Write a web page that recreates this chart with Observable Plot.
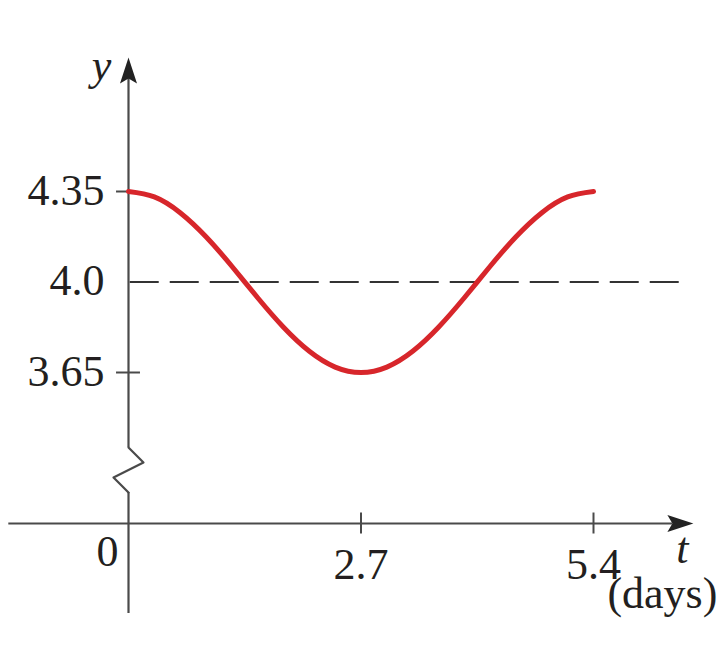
<!DOCTYPE html>
<html>
<head>
<meta charset="utf-8">
<script src="https://cdn.jsdelivr.net/npm/d3@7"></script>
<script src="https://cdn.jsdelivr.net/npm/@observablehq/plot@0.6"></script>
<style>
  html, body { margin: 0; padding: 0; background: #fff; }
  #chart { width: 726px; height: 652px; }
</style>
</head>
<body>
<div id="chart"></div>
<script>
// Data
const tValues = [0, 0.3, 0.6, 0.9, 1.2, 1.5, 1.8, 2.1, 2.4, 2.7, 3.0, 3.3, 3.6, 3.9, 4.2, 4.5, 4.8, 5.1, 5.4];
const yValues = [4.35, 4.329, 4.268, 4.175, 4.061, 3.939, 3.825, 3.732, 3.671, 3.65, 3.671, 3.732, 3.825, 3.939, 4.061, 4.175, 4.268, 4.329, 4.35];
const midline = 4.0;
const yTicks = [4.35, 4.0, 3.65];
const yTickLabels = ["4.35", "4.0", "3.65"];
const xTicks = [2.7, 5.4];
const xTickLabels = ["2.7", "5.4"];
const originLabel = "0";
const xAxisLabel = "t";
const xUnitLabel = "(days)";
const yAxisLabel = "y";

const data = tValues.map((t, i) => ({t, y: yValues[i]}));

// Axis frame (data units; the y axis is broken below 3.65)
const xAxisY = 3.066;       // level where the t axis crosses
const xMin = -1.39, xArrowTip = 6.56, xArrowBase = 6.27;
const yMin = 2.718, yArrowTip = 4.868, yArrowBase = 4.768;
const zig = [{x: 0, y: 3.360}, {x: 0.174, y: 3.302}, {x: -0.174, y: 3.244}, {x: 0, y: 3.186}];
const dashEnd = 6.43;
const tickHalfX = 0.139, tickHalfY = 0.0406;

const axisColor = "#4a4a4a";
const textColor = "#231f20";
const font = "'Liberation Serif', 'DejaVu Serif', serif";
const fs = 44;

const arrowHead = {
  draw(context) {
    context.moveTo(0, 0);
    context.lineTo(-8.5, 26);
    context.lineTo(0, 21);
    context.lineTo(8.5, 26);
    context.closePath();
  }
};

const chart = Plot.plot({
  width: 726,
  height: 652,
  x: {domain: [0, 5.4], range: [128, 593], axis: null},
  y: {domain: [3.65, 4.35], range: [372, 191], axis: null},
  style: {fontFamily: font, background: "#fff"},
  marks: [
    // t axis
    Plot.ruleY([xAxisY], {x1: xMin, x2: xArrowBase + 0.05, stroke: axisColor, strokeWidth: 2.2}),
    Plot.dot([{x: xArrowTip, y: xAxisY}], {x: "x", y: "y", symbol: arrowHead, rotate: 90, fill: "#222", stroke: "none"}),
    // y axis (broken)
    Plot.ruleX([0], {y1: yMin, y2: zig[3].y, stroke: axisColor, strokeWidth: 2.2}),
    Plot.line(zig, {x: "x", y: "y", stroke: axisColor, strokeWidth: 2.2}),
    Plot.ruleX([0], {y1: zig[0].y, y2: yArrowBase + 0.02, stroke: axisColor, strokeWidth: 2.2}),
    Plot.dot([{x: 0, y: yArrowTip}], {x: "x", y: "y", symbol: arrowHead, rotate: 0, fill: "#222", stroke: "none"}),
    // y ticks
    Plot.ruleY([yTicks[0]], {x1: -tickHalfX, x2: 0, stroke: axisColor, strokeWidth: 2}),
    Plot.ruleY([yTicks[2]], {x1: -tickHalfX, x2: tickHalfX, stroke: axisColor, strokeWidth: 2}),
    // x ticks
    Plot.ruleX(xTicks, {y1: xAxisY - tickHalfY, y2: xAxisY + tickHalfY, stroke: axisColor, strokeWidth: 2}),
    // dashed midline
    Plot.ruleY([midline], {x1: 0.02, x2: dashEnd, stroke: "#333", strokeWidth: 2, strokeDasharray: "29,11"}),
    // curve
    Plot.line(data, {x: "t", y: "y", curve: "natural", stroke: "#d7262b", strokeWidth: 5, strokeLinecap: "round"}),
    // y tick labels
    Plot.text(yTicks, {x: 0, y: d => d, text: (d, i) => yTickLabels[i], textAnchor: "end", lineAnchor: "bottom", dx: -24, dy: 13, fontSize: fs, fill: textColor, fontFamily: font}),
    // x tick labels
    Plot.text(xTicks, {x: d => d, y: xAxisY, text: (d, i) => xTickLabels[i], textAnchor: "middle", lineAnchor: "bottom", dy: 55, fontSize: fs, fill: textColor, fontFamily: font}),
    Plot.text([originLabel], {x: 0, y: xAxisY, text: d => d, textAnchor: "middle", lineAnchor: "bottom", dx: -21, dy: 42, fontSize: fs, fill: textColor, fontFamily: font}),
    // axis labels
    Plot.text([xAxisLabel], {x: xArrowTip, y: xAxisY, text: d => d, textAnchor: "middle", lineAnchor: "bottom", dx: -11, dy: 39, fontSize: fs, fontStyle: "italic", fill: textColor, fontFamily: font}),
    Plot.text([xUnitLabel], {x: xArrowTip, y: xAxisY, text: d => d, textAnchor: "middle", lineAnchor: "bottom", dx: -31, dy: 84, fontSize: fs, fill: textColor, fontFamily: font}),
    Plot.text([yAxisLabel], {x: 0, y: yArrowTip, text: d => d, textAnchor: "middle", lineAnchor: "bottom", dx: -27, dy: 22, fontSize: fs, fontStyle: "italic", fill: textColor, fontFamily: font})
  ]
});

document.getElementById("chart").appendChild(chart);
</script>
</body>
</html>
